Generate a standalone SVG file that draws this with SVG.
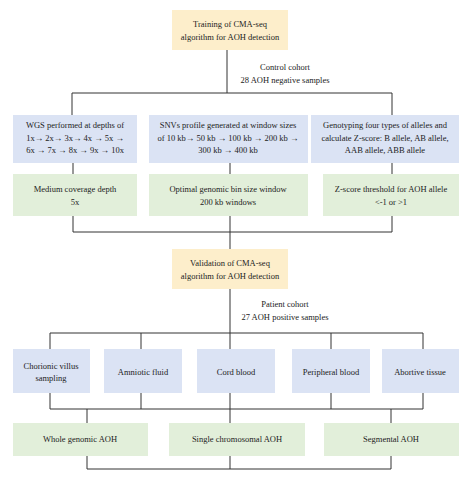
<svg xmlns="http://www.w3.org/2000/svg" width="474" height="483" viewBox="0 0 474 483">
<style>
.y{fill:#fdeecb}
.b{fill:#dbe3f4}
.g{fill:#e2efda}
text{font-family:"Liberation Serif","Times New Roman",serif;font-size:8.5px;fill:#222;text-anchor:middle}
.c line{stroke:#333;stroke-width:1}
</style>
<rect width="474" height="483" fill="#fff"/>
<g class="c" id="connectors">
<line x1="227" y1="50" x2="227" y2="93"/>
<line x1="72" y1="93" x2="392" y2="93"/>
<line x1="72" y1="93" x2="72" y2="115"/>
<line x1="392" y1="93" x2="392" y2="115"/>
<line x1="73" y1="163" x2="73" y2="174"/>
<line x1="230" y1="163" x2="230" y2="174"/>
<line x1="392" y1="163" x2="392" y2="174"/>
<line x1="73" y1="216" x2="73" y2="232"/>
<line x1="230" y1="216" x2="230" y2="249"/>
<line x1="392" y1="216" x2="392" y2="232"/>
<line x1="73" y1="232" x2="392" y2="232"/>
<line x1="230" y1="289" x2="230" y2="349"/>
<line x1="50" y1="333" x2="423" y2="333"/>
<line x1="50" y1="333" x2="50" y2="349"/>
<line x1="141" y1="333" x2="141" y2="349"/>
<line x1="331" y1="333" x2="331" y2="349"/>
<line x1="423" y1="333" x2="423" y2="349"/>
<line x1="50" y1="393" x2="50" y2="409"/>
<line x1="141" y1="393" x2="141" y2="409"/>
<line x1="230" y1="393" x2="230" y2="423"/>
<line x1="331" y1="393" x2="331" y2="409"/>
<line x1="423" y1="393" x2="423" y2="409"/>
<line x1="50" y1="409" x2="423" y2="409"/>
<line x1="87" y1="409" x2="87" y2="423"/>
<line x1="391" y1="409" x2="391" y2="423"/>
<line x1="87" y1="456" x2="87" y2="469"/>
<line x1="230" y1="456" x2="230" y2="469"/>
<line x1="391" y1="456" x2="391" y2="469"/>
<line x1="87" y1="469" x2="391" y2="469"/>
</g>
<g id="labels">
<text x="285" y="70">Control cohort</text>
<text x="285" y="83">28 AOH negative samples</text>
<text x="285" y="307">Patient cohort</text>
<text x="285" y="320">27 AOH positive samples</text>
</g>
<g id="training">
<rect class="y" x="172" y="10" width="116" height="40"/>
<text x="230" y="27">Training of CMA-seq</text>
<text x="230" y="40">algorithm for AOH detection</text>
</g>
<g id="wgs">
<rect class="b" x="13" y="115" width="124" height="48"/>
<text x="75" y="128">WGS performed at depths of</text>
<text x="75" y="141">1x→ 2x→ 3x→ 4x → 5x →</text>
<text x="75" y="153">6x → 7x → 8x → 9x → 10x</text>
</g>
<g id="snvs">
<rect class="b" x="149" y="115" width="159" height="48"/>
<text x="228" y="128">SNVs profile generated at window sizes</text>
<text x="228" y="141">of 10 kb→ 50 kb → 100 kb → 200 kb →</text>
<text x="228" y="153">300 kb → 400 kb</text>
</g>
<g id="genotyping">
<rect class="b" x="311" y="115" width="148" height="48"/>
<text x="385" y="128">Genotyping four types of alleles and</text>
<text x="385" y="141">calculate Z-score: B allele, AB allele,</text>
<text x="385" y="153">AAB allele, ABB allele</text>
</g>
<g id="medium">
<rect class="g" x="13" y="174" width="124" height="42"/>
<text x="75" y="192">Medium coverage depth</text>
<text x="75" y="205">5x</text>
</g>
<g id="optimal">
<rect class="g" x="149" y="174" width="159" height="42"/>
<text x="228" y="192">Optimal genomic bin size window</text>
<text x="228" y="205">200 kb windows</text>
</g>
<g id="zscore">
<rect class="g" x="323" y="174" width="136" height="42"/>
<text x="391" y="192">Z-score threshold for AOH allele</text>
<text x="391" y="205">&lt;-1 or &gt;1</text>
</g>
<g id="validation">
<rect class="y" x="172" y="249" width="116" height="40"/>
<text x="230" y="266">Validation of CMA-seq</text>
<text x="230" y="279">algorithm for AOH detection</text>
</g>
<g id="cvs">
<rect class="b" x="13" y="349" width="77" height="44"/>
<text x="51" y="369">Chorionic villus</text>
<text x="51" y="381">sampling</text>
</g>
<g id="amniotic">
<rect class="b" x="104" y="349" width="78" height="44"/>
<text x="143" y="375">Amniotic fluid</text>
</g>
<g id="cord">
<rect class="b" x="197" y="349" width="78" height="44"/>
<text x="236" y="375">Cord blood</text>
</g>
<g id="peripheral">
<rect class="b" x="292" y="349" width="78" height="44"/>
<text x="331" y="375">Peripheral blood</text>
</g>
<g id="abortive">
<rect class="b" x="382" y="349" width="77" height="44"/>
<text x="420" y="375">Abortive tissue</text>
</g>
<g id="whole">
<rect class="g" x="13" y="423" width="135" height="33"/>
<text x="80" y="442">Whole genomic AOH</text>
</g>
<g id="single">
<rect class="g" x="169" y="423" width="136" height="33"/>
<text x="237" y="442">Single chromosomal AOH</text>
</g>
<g id="segmental">
<rect class="g" x="324" y="423" width="135" height="33"/>
<text x="391" y="442">Segmental AOH</text>
</g>
</svg>
